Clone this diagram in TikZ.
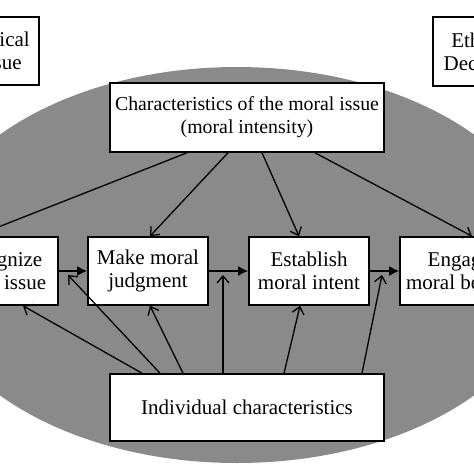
\documentclass[tikz,border=0pt]{standalone}
\usepackage{fontspec}
\setmainfont{Liberation Serif}
\usetikzlibrary{arrows.meta,calc}
\definecolor{ellgray}{RGB}{138,138,138}
\begin{document}
\begin{tikzpicture}[x=1pt,y=-1pt,
  box/.style={draw,line width=1.6pt,fill=white,align=center,inner sep=0pt,
    font=\fontsize{21}{23}\selectfont},
  widebox/.style={box,font=\fontsize{19.8}{23}\selectfont},
  conn/.style={line width=1.3pt,-{Straight Barb[length=7pt,width=12pt]}},
  flow/.style={line width=1.8pt,-{Latex[length=10pt,width=10pt]}}]
\useasboundingbox (0,0) rectangle (474,474);
\clip (0,0) rectangle (474,474);
\fill[ellgray] (237,265) ellipse [x radius=315, y radius=198];

\node[box,minimum width=78,minimum height=68] (ethL) at (0,51) {\phantom{Et}hical\\\phantom{Is}sue};
\node[box,minimum width=96,minimum height=69] (ethR) at (481,51.5) {Eth\phantom{ical}\\Dec\phantom{ision}};
\node[widebox,minimum width=274,minimum height=69] (char) at (247,117.5) {Characteristics of the moral issue\\(moral intensity)};
\node[box,minimum width=120,minimum height=68] (rec) at (-2,271) {\phantom{Reco}gnize\\\phantom{mora}l issue};
\node[box,minimum width=120,minimum height=68] (make) at (148,271) {Make moral\\judgment};
\node[box,minimum width=120,minimum height=68] (est) at (309,271) {Establish\\moral intent};
\node[box,minimum width=140,minimum height=68] (eng) at (470,271) {Engag\phantom{e in}\\moral be\phantom{havior}};
\node[box,minimum width=274,minimum height=67] (ind) at (247,407.5) {Individual characteristics};

\coordinate (m1) at (68,275);
\coordinate (m2) at (223,275);
\coordinate (m3) at (382,275);

\draw[flow] (rec) -- (make);
\draw[flow] (make) -- (est);
\draw[flow] (est) -- (eng);

\draw[conn] ([xshift=-60pt]char.south) -- ([xshift=-23pt]rec.north);
\draw[conn] ([xshift=-19pt]char.south) -- ([xshift=2pt]make.north);
\draw[conn] ([xshift=15pt]char.south) -- ([xshift=-10pt]est.north);
\draw[conn] ([xshift=68pt]char.south) -- ([xshift=2pt]eng.north);

\draw[conn] ([xshift=-105pt]ind.north) -- ([xshift=25pt]rec.south);
\draw[conn] ([xshift=-87pt]ind.north) -- (m1);
\draw[conn] ([xshift=-64pt]ind.north) -- ([xshift=2pt]make.south);
\draw[conn] ([xshift=-24pt]ind.north) -- (m2);
\draw[conn] ([xshift=37pt]ind.north) -- ([xshift=-9pt]est.south);
\draw[conn] ([xshift=115pt]ind.north) -- (m3);
\end{tikzpicture}
\end{document}
